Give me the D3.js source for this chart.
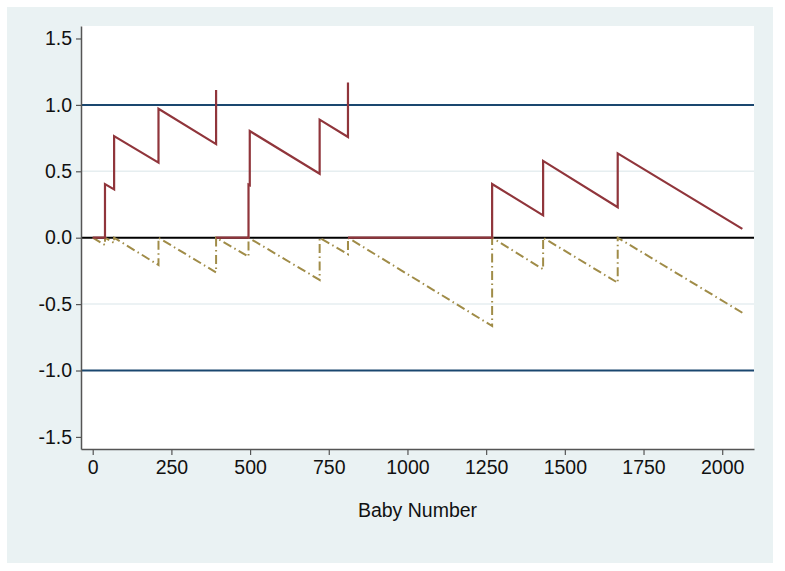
<!DOCTYPE html>
<html lang="en">
<head>
  <meta charset="utf-8">
  <title>CUSUM by baby number</title>
  <script src="https://d3js.org/d3.v7.min.js"></script>
  <style>
    body { margin: 0; background: #fff; }
    text { font-family: "Liberation Sans", Arial, sans-serif; fill: #111; }
  </style>
</head>
<body>
<svg width="785" height="571"></svg>
<script>
// upper CUSUM (solid red), vertices; null = break after a signal
var redX = [0, 39, 39, 68, 68, 209, 209, 392, 392, 392, 392, 495, 495, 499, 499, 721, 721, 811, 811, 811, 811, 1269, 1269, 1431, 1431, 1668, 1668, 2064];
var redY = [0, 0, 0.404, 0.364, 0.765, 0.565, 0.971, 0.705, 1.112, null, 0, 0, 0.40, 0.395, 0.803, 0.482, 0.889, 0.758, 1.169, null, 0, 0, 0.404, 0.168, 0.578, 0.229, 0.635, 0.066];

// lower CUSUM (dash-dot khaki)
var lowX = [0, 39, 39, 68, 68, 209, 209, 392, 392, 495, 495, 721, 721, 811, 811, 1269, 1269, 1431, 1431, 1668, 1668, 2064];
var lowY = [0, -0.055, 0, -0.04, 0, -0.206, 0, -0.261, 0, -0.143, 0, -0.318, 0, -0.125, 0, -0.665, 0, -0.238, 0, -0.339, 0, -0.565];

var refLines = [1, 0, -1];
var gridLines = [0.5, -0.5];
var xTicks = [0, 250, 500, 750, 1000, 1250, 1500, 1750, 2000];
var yTicks = [1.5, 1.0, 0.5, 0.0, -0.5, -1.0, -1.5];

var svg = d3.select("svg");

// outer panel
svg.append("rect")
   .attr("x", 7).attr("y", 7)
   .attr("width", 766).attr("height", 556)
   .attr("fill", "#eaf2f3");

var pLeft = 81, pRight = 754, pTop = 26, pBottom = 449;

svg.append("rect")
   .attr("x", pLeft).attr("y", pTop)
   .attr("width", pRight - pLeft).attr("height", pBottom - pTop)
   .attr("fill", "#fff");

var x = d3.scaleLinear().domain([-37.2, 2101]).range([pLeft, pRight]);
var y = d3.scaleLinear().domain([-1.591, 1.594]).range([pBottom, pTop]);

svg.selectAll(".grid")
   .data(gridLines)
   .enter().append("line")
   .attr("x1", pLeft).attr("x2", pRight)
   .attr("y1", function(d) { return y(d); })
   .attr("y2", function(d) { return y(d); })
   .attr("stroke", "#e6eef0")
   .attr("stroke-width", 1.5);

svg.selectAll(".ref")
   .data(refLines)
   .enter().append("line")
   .attr("x1", pLeft).attr("x2", pRight)
   .attr("y1", function(d) { return y(d); })
   .attr("y2", function(d) { return y(d); })
   .attr("stroke", function(d) { return d === 0 ? "#000" : "#1a476f"; })
   .attr("stroke-width", 2);

var line = d3.line()
   .defined(function(d) { return d[1] !== null; })
   .x(function(d) { return x(d[0]); })
   .y(function(d) { return y(d[1]); });

svg.append("path")
   .datum(lowX.map(function(v, i) { return [v, lowY[i]]; }))
   .attr("d", line)
   .attr("fill", "none")
   .attr("stroke", "#a08c48")
   .attr("stroke-width", 2)
   .attr("stroke-dasharray", "9,3.5,1.5,3.5");

svg.append("path")
   .datum(redX.map(function(v, i) { return [v, redY[i]]; }))
   .attr("d", line)
   .attr("fill", "none")
   .attr("stroke", "#90353b")
   .attr("stroke-width", 2.2)
   .attr("stroke-linejoin", "miter");

// axes
var yAxis = svg.append("g")
   .attr("transform", "translate(" + pLeft + ",0)")
   .call(d3.axisLeft(y).tickValues(yTicks).tickFormat(d3.format(".1f"))
         .tickSize(5).tickSizeOuter(0).tickPadding(4));

var xAxis = svg.append("g")
   .attr("transform", "translate(0," + pBottom + ")")
   .call(d3.axisBottom(x).tickValues(xTicks).tickFormat(d3.format("d"))
         .tickSize(6).tickSizeOuter(0).tickPadding(5));

[yAxis, xAxis].forEach(function(a) {
  a.select(".domain").attr("stroke", "#555").attr("stroke-width", 1.5);
  a.selectAll(".tick line").attr("stroke", "#555").attr("stroke-width", 1.2);
  a.selectAll(".tick text").attr("font-size", "19.5px").attr("fill", "#111")
   .attr("font-family", "'Liberation Sans', Arial, sans-serif");
});
yAxis.selectAll(".tick text").text(function(d) { return d3.format(".1f")(d).replace("−", "-"); });

svg.append("text")
   .attr("x", (pLeft + pRight) / 2)
   .attr("y", 517)
   .attr("text-anchor", "middle")
   .attr("font-size", "19.5px")
   .text("Baby Number");
</script>
</body>
</html>
